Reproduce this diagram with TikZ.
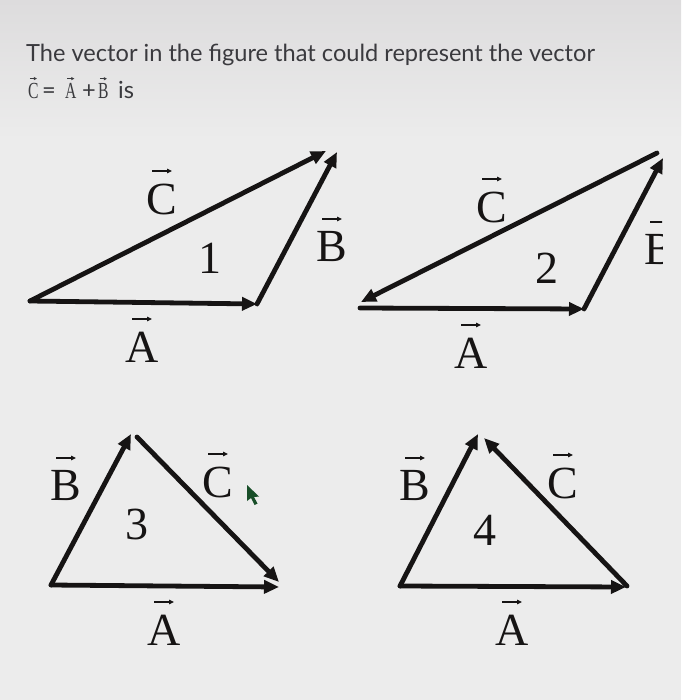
\documentclass[tikz,border=0pt]{standalone}
\usepackage{fontspec}
\usepackage{graphicx}
\setmainfont{Lato}
\newfontfamily\serifl{Liberation Serif}
\usetikzlibrary{arrows.meta}
\definecolor{bgtop}{RGB}{221,220,221}
\definecolor{bgbot}{RGB}{236,236,236}
\definecolor{txt}{RGB}{58,58,62}
\definecolor{ink}{RGB}{22,20,20}
\definecolor{cursorgreen}{RGB}{24,78,40}
\tikzset{
  vec/.style={draw=ink, line width=4.8pt, line cap=round,
    -{Triangle[length=15pt,width=13pt]}},
  lab/.style={font=\serifl\fontsize{46}{50}\selectfont, text=ink, inner sep=0pt},
  vecarr/.style={draw=ink, line width=1.2pt, -{Triangle[length=5pt,width=4.5pt]}},
  head/.style={font=\fontsize{23.6}{28}\selectfont, text=txt, inner sep=0pt, anchor=base west},
  headser/.style={font=\serifl\fontsize{23}{26}\selectfont, text=txt, inner sep=0pt, anchor=base west},
  smallarr/.style={draw=txt, line width=0.9pt, -{Triangle[length=3pt,width=3pt]}},
}
\newcommand\vlab[4]{%
  \node[lab] (#1) at (#2,#3) {#4};
  \draw[vecarr] ([xshift=-10pt,yshift=28pt]#1.center) -- ([xshift=10pt,yshift=28pt]#1.center);
}
\newcommand\hlab[4]{%
  \node[headser] (#1) at (#2,#3) {\scalebox{0.68}[1]{#4}};
  \draw[smallarr] ([xshift=-3.5pt,yshift=5pt]#1.north) -- ([xshift=3.5pt,yshift=5pt]#1.north);
}
\begin{document}
\begin{tikzpicture}[x=1pt,y=-1pt]
  \useasboundingbox (0,0) rectangle (681,700);
  \shade[top color=bgtop, bottom color=bgbot] (0,0) rectangle (681,140);
  \fill[bgbot] (0,140) rectangle (681,700);

  % heading
  \node[head] (h1) at (26,62) {The vector in the figure that could represent the vector};
  \hlab{hc}{28}{99}{C}
  \node[head] (heq) at (42,99) {=};
  \hlab{ha}{65}{99}{A}
  \node[head] (hplus) at (82,99) {+};
  \hlab{hb}{98}{99}{B}
  \node[head] (his) at (118,99) {is};

  % ---------- triangle 1 ----------
  \coordinate (t1l) at (30,301);
  \coordinate (t1r) at (257,304);
  \coordinate (t1c) at (326,151);
  \coordinate (t1b) at (337,152);
  \draw[vec] (t1l) -- (t1r);
  \draw[vec] (t1r) -- (t1b);
  \draw[vec] (t1l) -- (t1c);
  \vlab{l1c}{162}{199}{C}
  \vlab{l1b}{332}{247}{B}
  \vlab{l1a}{142}{347}{A}
  \node[lab] (n1) at (210,258) {1};

  % ---------- triangle 2 ----------
  \coordinate (t2l) at (361,302);
  \coordinate (t2la) at (360,308);
  \coordinate (t2r) at (584,309);
  \coordinate (t2top) at (657,153);
  \coordinate (t2bt) at (663,158);
  \draw[vec] (t2la) -- (t2r);
  \draw[vec] (t2r) -- (t2bt);
  \draw[vec] (t2top) -- (t2l);
  \vlab{l2c}{492}{207}{C}
  \vlab{l2a}{471}{353}{A}
  \node[lab] (n2) at (547,268) {2};
  \begin{scope}
    \clip (600,190) rectangle (662,300);
    \vlab{l2b}{660}{250}{B}
  \end{scope}

  % ---------- triangle 3 ----------
  \coordinate (t3l) at (51,585);
  \coordinate (t3top) at (131,434);
  \coordinate (t3ct) at (137,437);
  \coordinate (t3r) at (279,582);
  \coordinate (t3ra) at (279,587);
  \draw[vec] (t3l) -- (t3ra);
  \draw[vec] (t3l) -- (t3top);
  \draw[vec] (t3ct) -- (t3r);
  \vlab{l3b}{66}{486}{B}
  \vlab{l3c}{218}{482}{C}
  \vlab{l3a}{164}{630}{A}
  \node[lab] (n3) at (137,524) {3};
  \fill[cursorgreen] (247,485) -- (247,501) -- (251,498) -- (254.5,505) -- (257.5,503.5) -- (254,497) -- (259,496.5) -- cycle;

  % ---------- triangle 4 ----------
  \coordinate (t4l) at (400,586);
  \coordinate (t4top) at (478,434);
  \coordinate (t4ct) at (484,438);
  \coordinate (t4r) at (627,586);
  \coordinate (t4ra) at (626,587);
  \draw[vec] (t4l) -- (t4ra);
  \draw[vec] (t4l) -- (t4top);
  \draw[vec] (t4r) -- (t4ct);
  \vlab{l4b}{415}{486}{B}
  \vlab{l4c}{563}{483}{C}
  \vlab{l4a}{512}{630}{A}
  \node[lab] (n4) at (485,530) {4};
\end{tikzpicture}
\end{document}
